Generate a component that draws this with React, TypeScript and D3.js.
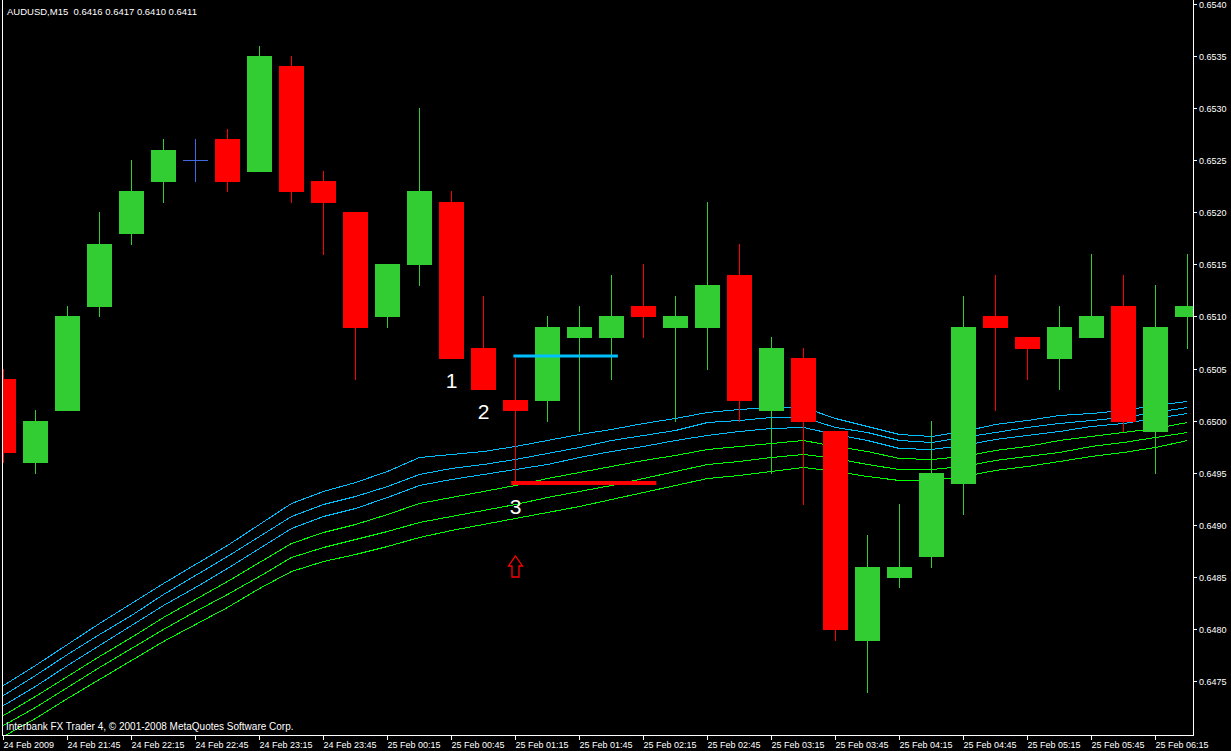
import React from "react";
import * as d3 from "d3";

const width = 1231;
const height = 751;

// M15 bars, 24 Feb 21:15 -> 25 Feb 06:30
const barTimes = [
  "2009-02-24 21:15", "2009-02-24 21:30", "2009-02-24 21:45", "2009-02-24 22:00",
  "2009-02-24 22:15", "2009-02-24 22:30", "2009-02-24 22:45", "2009-02-24 23:00",
  "2009-02-24 23:15", "2009-02-24 23:30", "2009-02-24 23:45", "2009-02-25 00:00",
  "2009-02-25 00:15", "2009-02-25 00:30", "2009-02-25 00:45", "2009-02-25 01:00",
  "2009-02-25 01:15", "2009-02-25 01:30", "2009-02-25 01:45", "2009-02-25 02:00",
  "2009-02-25 02:15", "2009-02-25 02:30", "2009-02-25 02:45", "2009-02-25 03:00",
  "2009-02-25 03:15", "2009-02-25 03:30", "2009-02-25 03:45", "2009-02-25 04:00",
  "2009-02-25 04:15", "2009-02-25 04:30", "2009-02-25 04:45", "2009-02-25 05:00",
  "2009-02-25 05:15", "2009-02-25 05:30", "2009-02-25 05:45", "2009-02-25 06:00",
  "2009-02-25 06:15", "2009-02-25 06:30",
];

const opens = [
  0.6504, 0.6496, 0.6501, 0.6511, 0.6518, 0.6523, 0.6525, 0.6527, 0.6524, 0.6534,
  0.6523, 0.6520, 0.6510, 0.6515, 0.6521, 0.6507, 0.6502, 0.6502, 0.6508, 0.6508,
  0.6511, 0.6509, 0.6509, 0.6514, 0.6501, 0.6506, 0.6499, 0.6479, 0.6485, 0.6487,
  0.6494, 0.6510, 0.6508, 0.6506, 0.6508, 0.6511, 0.6499, 0.6510,
];
const highs = [
  0.6505, 0.6501, 0.6511, 0.6520, 0.6525, 0.6527, 0.6527, 0.6528, 0.6536, 0.6535,
  0.6524, 0.6520, 0.6515, 0.6530, 0.6522, 0.6512, 0.6506, 0.6510, 0.6511, 0.6514,
  0.6515, 0.6512, 0.6521, 0.6517, 0.6508, 0.6507, 0.6499, 0.6489, 0.6492, 0.6500,
  0.6512, 0.6514, 0.6508, 0.6511, 0.6516, 0.6514, 0.6513, 0.6516,
];
const lows = [
  0.6496, 0.6495, 0.6501, 0.6510, 0.6517, 0.6521, 0.6523, 0.6522, 0.6524, 0.6521,
  0.6516, 0.6504, 0.6509, 0.6513, 0.6506, 0.6503, 0.6494, 0.6500, 0.6499, 0.6504,
  0.6508, 0.6500, 0.6505, 0.6500, 0.6495, 0.6492, 0.6479, 0.6474, 0.6484, 0.6486,
  0.6491, 0.6501, 0.6504, 0.6503, 0.6508, 0.6499, 0.6495, 0.6507,
];
const closes = [
  0.6497, 0.6500, 0.6510, 0.6517, 0.6522, 0.6526, 0.6525, 0.6523, 0.6535, 0.6522,
  0.6521, 0.6509, 0.6515, 0.6522, 0.6506, 0.6503, 0.6501, 0.6509, 0.6509, 0.6510,
  0.6510, 0.6510, 0.6513, 0.6502, 0.6507, 0.6500, 0.6480, 0.6486, 0.6486, 0.6495,
  0.6509, 0.6509, 0.6507, 0.6509, 0.6510, 0.6500, 0.6509, 0.6511,
];

// moving averages start one bar earlier (21:00) so they run off the left edge
const maTimes = ["2009-02-24 21:00", ...barTimes];
const maBlue1 = [
  0.64726, 0.64746, 0.64766, 0.64786, 0.64806, 0.64825, 0.64844, 0.64862, 0.64881, 0.64901,
  0.64921, 0.64933, 0.64941, 0.64952, 0.64965, 0.64968, 0.64971, 0.64976, 0.64981, 0.64987,
  0.64992, 0.64998, 0.65003, 0.65008, 0.65011, 0.65013, 0.65013, 0.65003, 0.64995, 0.64987,
  0.64985, 0.64990, 0.64997, 0.65001, 0.65005, 0.65007, 0.65010, 0.65015, 0.65019,
];
const maBlue2 = [
  0.64717, 0.64737, 0.64756, 0.64776, 0.64795, 0.64814, 0.64834, 0.64852, 0.64870, 0.64889,
  0.64909, 0.64920, 0.64928, 0.64937, 0.64949, 0.64955, 0.64958, 0.64963, 0.64969, 0.64975,
  0.64981, 0.64986, 0.64991, 0.64999, 0.65001, 0.65004, 0.65004, 0.64994, 0.64989, 0.64981,
  0.64980, 0.64984, 0.64989, 0.64994, 0.64998, 0.65001, 0.65004, 0.65008, 0.65013,
];
const maBlue3 = [
  0.64707, 0.64727, 0.64745, 0.64766, 0.64785, 0.64804, 0.64823, 0.64840, 0.64859, 0.64878,
  0.64897, 0.64909, 0.64916, 0.64927, 0.64938, 0.64944, 0.64949, 0.64954, 0.64958, 0.64965,
  0.64971, 0.64976, 0.64981, 0.64986, 0.64990, 0.64993, 0.64994, 0.64987, 0.64981, 0.64974,
  0.64973, 0.64977, 0.64982, 0.64986, 0.64990, 0.64995, 0.64998, 0.65003, 0.65007,
];
const maGreen1 = [
  0.64697, 0.64718, 0.64736, 0.64755, 0.64774, 0.64792, 0.64812, 0.64829, 0.64846, 0.64864,
  0.64883, 0.64893, 0.64901, 0.64910, 0.64921, 0.64927, 0.64933, 0.64938, 0.64945, 0.64951,
  0.64957, 0.64962, 0.64967, 0.64973, 0.64976, 0.64979, 0.64981, 0.64976, 0.64971, 0.64964,
  0.64963, 0.64966, 0.64972, 0.64976, 0.64981, 0.64985, 0.64989, 0.64993, 0.64999,
];
const maGreen2 = [
  0.64688, 0.64708, 0.64725, 0.64744, 0.64764, 0.64782, 0.64800, 0.64817, 0.64834, 0.64851,
  0.64869, 0.64879, 0.64886, 0.64894, 0.64903, 0.64909, 0.64914, 0.64920, 0.64927, 0.64933,
  0.64938, 0.64945, 0.64952, 0.64958, 0.64961, 0.64965, 0.64968, 0.64964, 0.64958, 0.64954,
  0.64954, 0.64957, 0.64962, 0.64966, 0.64970, 0.64976, 0.64980, 0.64984, 0.64989,
];
const maGreen3 = [
  0.64677, 0.64697, 0.64715, 0.64734, 0.64752, 0.64770, 0.64789, 0.64805, 0.64821, 0.64839,
  0.64856, 0.64865, 0.64872, 0.64880, 0.64888, 0.64895, 0.64901, 0.64907, 0.64912, 0.64918,
  0.64925, 0.64932, 0.64938, 0.64945, 0.64948, 0.64952, 0.64956, 0.64952, 0.64947, 0.64943,
  0.64943, 0.64947, 0.64953, 0.64957, 0.64961, 0.64966, 0.64970, 0.64975, 0.64981,
];

const priceTicks = [
  0.6475, 0.648, 0.6485, 0.649, 0.6495, 0.65, 0.6505, 0.651, 0.6515, 0.652, 0.6525,
  0.653, 0.6535, 0.654,
];

const headerText = "AUDUSD,M15  0.6416 0.6417 0.6410 0.6411";
const footerText = "Interbank FX Trader 4, \u00a9 2001-2008 MetaQuotes Software Corp.";

// hand-drawn objects on the chart
const levelLines = [
  { from: "2009-02-25 01:14", to: "2009-02-25 02:03", price: 0.65062, color: "#00BFFF", w: 3 },
  { from: "2009-02-25 01:13", to: "2009-02-25 02:21", price: 0.6494, color: "#FF0000", w: 4 },
];
const markLabels = [
  { text: "1", time: "2009-02-25 00:45", price: 0.65031 },
  { text: "2", time: "2009-02-25 01:00", price: 0.65002 },
  { text: "3", time: "2009-02-25 01:15", price: 0.6491 },
];
const upArrow = { time: "2009-02-25 01:15", price: 0.6487 };

const parse = d3.timeParse("%Y-%m-%d %H:%M");
const font = "'Liberation Sans', Arial, sans-serif";

const App = () => {
  const times = barTimes.map((t) => parse(t) as Date);
  const frameRight = 1193;
  const frameBottom = 735;

  const x = d3
    .scaleTime()
    .domain([times[0], times[times.length - 1]])
    .range([3.5, 1187.5]);
  const y = d3.scaleLinear().domain([0.6475, 0.654]).range([681.2, 3.9]);

  const maLine = d3
    .line<number>()
    .x((_, i) => x(parse(maTimes[i]) as Date))
    .y((v) => Math.round(y(v)) + 0.5);

  const maSeries = [
    { data: maBlue1, color: "#00BFFF" },
    { data: maBlue2, color: "#00BFFF" },
    { data: maBlue3, color: "#00BFFF" },
    { data: maGreen1, color: "#00FF00" },
    { data: maGreen2, color: "#00FF00" },
    { data: maGreen3, color: "#00FF00" },
  ];

  const fmtFirst = d3.timeFormat("%d %b %Y");
  const fmtTime = d3.timeFormat("%d %b %H:%M");

  const ax = x(parse(upArrow.time) as Date);
  const ay = Math.round(y(upArrow.price));

  return (
    <svg
      width={width}
      height={height}
      style={{ position: "absolute", left: 0, top: 0, background: "#000" }}
    >
      <rect width={width} height={height} fill="#000" />
      <defs>
        <clipPath id="plot">
          <rect x={3} y={0} width={frameRight - 3} height={frameBottom} />
        </clipPath>
      </defs>

      <g clipPath="url(#plot)">
        {maSeries.map((s, k) => (
          <path
            key={k}
            d={maLine(s.data) || ""}
            fill="none"
            stroke={s.color}
            strokeWidth={1}
            shapeRendering="crispEdges"
          />
        ))}

        {times.map((t, i) => {
          const o = opens[i];
          const c = closes[i];
          const color = c > o ? "#32CD32" : c < o ? "#FF0000" : "#4169E1";
          const cx = x(t);
          const top = Math.round(y(Math.max(o, c)));
          const bot = Math.round(y(Math.min(o, c)));
          const hi = Math.round(y(highs[i]));
          const lo = Math.round(y(lows[i]));
          return (
            <g key={i} shapeRendering="crispEdges">
              <rect x={Math.floor(cx)} y={hi} width={1} height={lo - hi + 1} fill={color} />
              <rect x={cx - 12.5} y={top} width={25} height={bot - top + 1} fill={color} />
            </g>
          );
        })}

        {levelLines.map((l, k) => (
          <line
            key={k}
            x1={x(parse(l.from) as Date)}
            x2={x(parse(l.to) as Date)}
            y1={Math.round(y(l.price))}
            y2={Math.round(y(l.price))}
            stroke={l.color}
            strokeWidth={l.w}
          />
        ))}

        {markLabels.map((m, k) => (
          <text
            key={k}
            x={x(parse(m.time) as Date)}
            y={y(m.price)}
            fill="#fff"
            fontFamily={font}
            fontSize={21}
            textAnchor="middle"
          >
            {m.text}
          </text>
        ))}

        <path
          d={`M${ax},${ay} l7,10 h-3.5 v11 h-7 v-11 h-3.5 Z`}
          fill="none"
          stroke="#FF0000"
          strokeWidth={1.3}
        />
      </g>

      <text x={7} y={15} fill="#fff" fontFamily={font} fontSize={9.5} style={{ whiteSpace: "pre" }}>
        {headerText}
      </text>
      <text x={6} y={730} fill="#fff" fontFamily={font} fontSize={10}>
        {footerText}
      </text>

      {/* frame */}
      <g stroke="#fff" strokeWidth={1} shapeRendering="crispEdges">
        <line x1={2.5} x2={2.5} y1={0} y2={frameBottom + 0.5} />
        <line x1={frameRight + 0.5} x2={frameRight + 0.5} y1={0} y2={frameBottom + 0.5} />
        <line x1={2.5} x2={frameRight + 0.5} y1={frameBottom + 0.5} y2={frameBottom + 0.5} />
      </g>

      {/* price axis */}
      {priceTicks.map((p) => {
        const py = Math.round(y(p)) + 0.5;
        return (
          <g key={p}>
            <line
              x1={frameRight + 1}
              x2={frameRight + 4}
              y1={py}
              y2={py}
              stroke="#fff"
              shapeRendering="crispEdges"
            />
            <text x={1199} y={py + 3.3} fill="#fff" fontFamily={font} fontSize={9}>
              {p.toFixed(4)}
            </text>
          </g>
        );
      })}

      {/* time axis */}
      {times.map((t, i) => {
        if (i % 2 !== 0) return null;
        const tx = Math.floor(x(t)) + 0.5;
        return (
          <g key={i}>
            <line
              x1={tx}
              x2={tx}
              y1={frameBottom}
              y2={frameBottom + 5}
              stroke="#fff"
              shapeRendering="crispEdges"
            />
            <text x={tx} y={748} fill="#fff" fontFamily={font} fontSize={9}>
              {i === 0 ? fmtFirst(t) : fmtTime(t)}
            </text>
          </g>
        );
      })}
    </svg>
  );
};

export default App;
